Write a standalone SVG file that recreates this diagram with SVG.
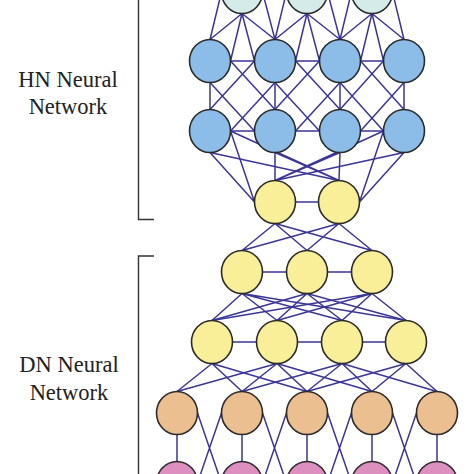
<svg xmlns="http://www.w3.org/2000/svg" width="474" height="474" viewBox="0 0 474 474">
<style>
.c{stroke:#3b3597;stroke-width:1.5;fill:none}
.n{stroke:#2b2b2b;stroke-width:1.6}
.cy{fill:#d5ebea}.bl{fill:#8bbde8}.ye{fill:#f8ef98}.or{fill:#ebbf8f}.pk{fill:#dd90c0}
.br{stroke:#333;stroke-width:1.4;fill:none}
.t{font-family:"Liberation Serif",serif;font-size:22.5px;fill:#222;text-anchor:middle}
</style>
<rect width="474" height="474" fill="#fff"/>
<g id="connectors" class="c">
<!-- cyan to blue L2 -->
<path d="M242,13.5L210,39.5M242,13.5L275,39.5M242,13.5L230.5,61M242,13.5L254.5,61M221.5,-8L210,39.5M262.5,-8L275,39.5"/>
<path d="M307,13.5L275,39.5M307,13.5L340,39.5M307,13.5L295.5,61M307,13.5L319.5,61M286.5,-8L275,39.5M327.5,-8L340,39.5"/>
<path d="M372,13.5L340,39.5M372,13.5L404,39.5M372,13.5L360.5,61M372,13.5L383.5,61M351.5,-8L340,39.5M392.5,-8L404,39.5"/>
<!-- blue L2 horizontal -->
<path d="M230.5,61H254.5M295.5,61H319.5M360.5,61H383.5"/>
<!-- blue L2 to L3 -->
<path d="M210,82.5V109.5M275,82.5V109.5M340,82.5V109.5M404,82.5V109.5"/>
<path d="M230.5,61L275,109.5M210,82.5L254.5,131M254.5,61L210,109.5M275,82.5L230.5,131"/>
<path d="M295.5,61L340,109.5M275,82.5L319.5,131M319.5,61L275,109.5M340,82.5L295.5,131"/>
<path d="M360.5,61L404,109.5M340,82.5L383.5,131M383.5,61L340,109.5M404,82.5L360.5,131"/>
<!-- blue L3 horizontal -->
<path d="M230.5,131H254.5M295.5,131H319.5M360.5,131H383.5"/>
<!-- blue L3 to yellow L4 -->
<path d="M210,152.5L254.5,202M230.5,131L254.5,202"/>
<path d="M275,152.5L275,180.5M340,152.5L275,180.5M404,152.5L275,180.5M383.5,131L275,180.5"/>
<path d="M340,152.5L339,180.5M275,152.5L339,180.5M210,152.5L339,180.5M230.5,131L339,180.5"/>
<path d="M404,152.5L359.5,202M383.5,131L359.5,202"/>
<!-- yellow L4 horizontal -->
<path d="M295.5,202H318.5"/>
<!-- yellow L4 to L5 -->
<path d="M275,223.5L242,250.5M275,223.5L307,250.5M275,223.5L372,250.5M339,223.5L242,250.5M339,223.5L307,250.5M339,223.5L372,250.5"/>
<!-- yellow L5 horizontal -->
<path d="M262.5,272H286.5M327.5,272H351.5"/>
<!-- yellow L5 to L6 -->
<path d="M242,293.5L212,320.5M242,293.5L277,320.5M242,293.5L342,320.5M242,293.5L406,320.5"/>
<path d="M307,293.5L212,320.5M307,293.5L277,320.5M307,293.5L342,320.5M307,293.5L406,320.5"/>
<path d="M372,293.5L212,320.5M372,293.5L277,320.5M372,293.5L342,320.5M372,293.5L406,320.5"/>
<!-- yellow L6 horizontal -->
<path d="M232.5,342H256.5M297.5,342H321.5M362.5,342H385.5"/>
<!-- yellow L6 to orange -->
<path d="M212,363.5L177,391.5M212,363.5L242,391.5M212,363.5L307,391.5"/>
<path d="M277,363.5L177,391.5M277,363.5L242,391.5M277,363.5L307,391.5M277,363.5L372,391.5"/>
<path d="M342,363.5L242,391.5M342,363.5L307,391.5M342,363.5L372,391.5M342,363.5L437,391.5"/>
<path d="M406,363.5L307,391.5M406,363.5L372,391.5M406,363.5L437,391.5"/>
<!-- orange to pink -->
<path d="M177,434.5V461.5M242,434.5V461.5M307,434.5V461.5M372,434.5V461.5M437,434.5V461.5"/>
<path d="M197.5,413L221.5,483M221.5,413L197.5,483M262.5,413L286.5,483M286.5,413L262.5,483M327.5,413L351.5,483M351.5,413L327.5,483M392.5,413L416.5,483M416.5,413L392.5,483"/>
</g>
<g id="brackets" class="br">
<path d="M138.5,-2V219.5H154"/>
<path d="M154,256H138.5V476"/>
</g>
<g id="label-hn"><text class="t" x="68" y="87">HN Neural</text><text class="t" x="68" y="114">Network</text></g>
<g id="label-dn"><text class="t" x="69" y="372">DN Neural</text><text class="t" x="69" y="400">Network</text></g>
<g id="n-c1"><ellipse class="n cy" cx="242" cy="-8" rx="20.5" ry="21.5"/></g>
<g id="n-c2"><ellipse class="n cy" cx="307" cy="-8" rx="20.5" ry="21.5"/></g>
<g id="n-c3"><ellipse class="n cy" cx="372" cy="-8" rx="20.5" ry="21.5"/></g>
<g id="n-b1"><ellipse class="n bl" cx="210" cy="61" rx="20.5" ry="21.5"/></g>
<g id="n-b2"><ellipse class="n bl" cx="275" cy="61" rx="20.5" ry="21.5"/></g>
<g id="n-b3"><ellipse class="n bl" cx="340" cy="61" rx="20.5" ry="21.5"/></g>
<g id="n-b4"><ellipse class="n bl" cx="404" cy="61" rx="20.5" ry="21.5"/></g>
<g id="n-b5"><ellipse class="n bl" cx="210" cy="131" rx="20.5" ry="21.5"/></g>
<g id="n-b6"><ellipse class="n bl" cx="275" cy="131" rx="20.5" ry="21.5"/></g>
<g id="n-b7"><ellipse class="n bl" cx="340" cy="131" rx="20.5" ry="21.5"/></g>
<g id="n-b8"><ellipse class="n bl" cx="404" cy="131" rx="20.5" ry="21.5"/></g>
<g id="n-y1"><ellipse class="n ye" cx="275" cy="202" rx="20.5" ry="21.5"/></g>
<g id="n-y2"><ellipse class="n ye" cx="339" cy="202" rx="20.5" ry="21.5"/></g>
<g id="n-y3"><ellipse class="n ye" cx="242" cy="272" rx="20.5" ry="21.5"/></g>
<g id="n-y4"><ellipse class="n ye" cx="307" cy="272" rx="20.5" ry="21.5"/></g>
<g id="n-y5"><ellipse class="n ye" cx="372" cy="272" rx="20.5" ry="21.5"/></g>
<g id="n-y6"><ellipse class="n ye" cx="212" cy="342" rx="20.5" ry="21.5"/></g>
<g id="n-y7"><ellipse class="n ye" cx="277" cy="342" rx="20.5" ry="21.5"/></g>
<g id="n-y8"><ellipse class="n ye" cx="342" cy="342" rx="20.5" ry="21.5"/></g>
<g id="n-y9"><ellipse class="n ye" cx="406" cy="342" rx="20.5" ry="21.5"/></g>
<g id="n-o1"><ellipse class="n or" cx="177" cy="413" rx="20.5" ry="21.5"/></g>
<g id="n-o2"><ellipse class="n or" cx="242" cy="413" rx="20.5" ry="21.5"/></g>
<g id="n-o3"><ellipse class="n or" cx="307" cy="413" rx="20.5" ry="21.5"/></g>
<g id="n-o4"><ellipse class="n or" cx="372" cy="413" rx="20.5" ry="21.5"/></g>
<g id="n-o5"><ellipse class="n or" cx="437" cy="413" rx="20.5" ry="21.5"/></g>
<g id="n-p1"><ellipse class="n pk" cx="177" cy="483" rx="20.5" ry="21.5"/></g>
<g id="n-p2"><ellipse class="n pk" cx="242" cy="483" rx="20.5" ry="21.5"/></g>
<g id="n-p3"><ellipse class="n pk" cx="307" cy="483" rx="20.5" ry="21.5"/></g>
<g id="n-p4"><ellipse class="n pk" cx="372" cy="483" rx="20.5" ry="21.5"/></g>
<g id="n-p5"><ellipse class="n pk" cx="437" cy="483" rx="20.5" ry="21.5"/></g>
</svg>
